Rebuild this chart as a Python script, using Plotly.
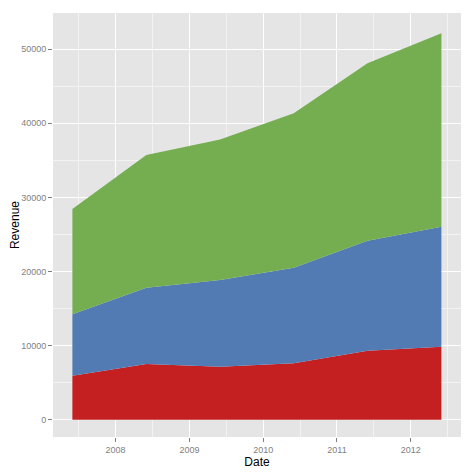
import plotly.graph_objects as go

dates = ["2007-06-01", "2008-06-01", "2009-06-01", "2010-06-01", "2011-06-01", "2012-06-01"]
red_vals = [5940, 7520, 7150, 7610, 9320, 9860]
blue_vals = [8280, 10300, 11700, 12900, 14840, 16190]
green_vals = [14200, 17900, 18950, 20840, 23940, 26100]

year_ticks = ["2008-01-01", "2009-01-01", "2010-01-01", "2011-01-01", "2012-01-01"]
year_labels = ["2008", "2009", "2010", "2011", "2012"]
half_years = ["2007-07-02", "2008-07-02", "2009-07-02", "2010-07-02", "2011-07-02", "2012-07-02"]

fig = go.Figure()
for vals, col in [(red_vals, "#C42021"), (blue_vals, "#527BB4"), (green_vals, "#74AE51")]:
    fig.add_trace(go.Scatter(x=dates, y=vals, stackgroup="rev", mode="lines",
                             line=dict(width=0), fillcolor=col, showlegend=False))

tickfont = dict(family="Liberation Sans, Arial, sans-serif", size=9, color="#7F7F7F")
fig.update_layout(
    width=474, height=474,
    margin=dict(l=53, r=13, t=13, b=37),
    paper_bgcolor="white", plot_bgcolor="#E5E5E5",
    font=dict(family="Liberation Sans, Arial, sans-serif", color="black"),
    xaxis=dict(
        type="date", range=["2007-02-25", "2012-09-06"], automargin=False,
        tickmode="array", tickvals=year_ticks, ticktext=year_labels,
        showgrid=True, gridcolor="white", gridwidth=1.2,
        minor=dict(tickmode="array", tickvals=half_years, showgrid=True,
                   gridcolor="#F2F2F2", gridwidth=0.6, ticks=""),
        ticks="outside", ticklen=4, tickcolor="#7F7F7F", tickfont=tickfont,
        zeroline=False, showline=False,
        title=dict(text="Date", font=dict(size=12), standoff=1),
    ),
    yaxis=dict(
        range=[-2335, 54885], tickmode="linear", tick0=0, dtick=10000, tickformat="d",
        automargin=False,
        showgrid=True, gridcolor="white", gridwidth=1.2,
        minor=dict(tick0=0, dtick=5000, showgrid=True, gridcolor="#F2F2F2",
                   gridwidth=0.6, ticks=""),
        ticks="outside", ticklen=4, tickcolor="#7F7F7F", tickfont=tickfont,
        zeroline=False, showline=False,
    ),
)

# y title sits closer to the tick labels than plotly's standoff allows
fig.add_annotation(text="Revenue", textangle=-90, xref="paper", yref="paper",
                   x=-0.093, y=0.5, xanchor="center", yanchor="middle",
                   showarrow=False, font=dict(size=12))

# page body has a default 8px margin; drop it so the figure sits at the corner
fig.write_html("out.html", config={"displayModeBar": False},
               post_script="document.body.style.margin = '0';")
